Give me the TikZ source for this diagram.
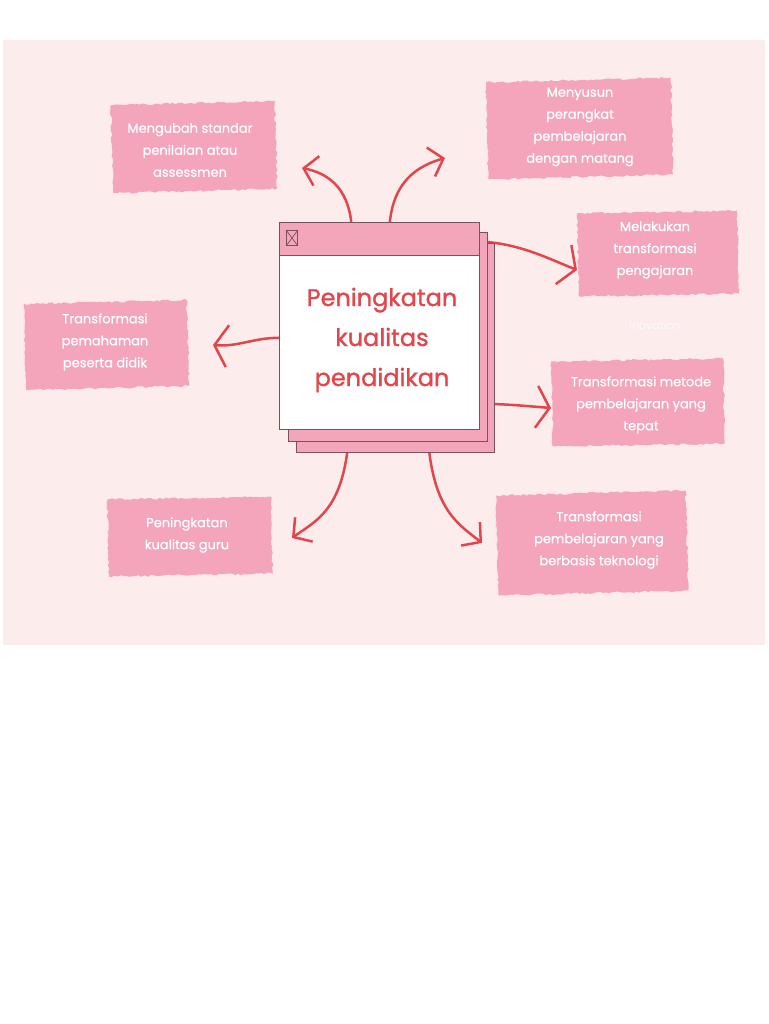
\documentclass[tikz,border=0pt]{standalone}
\usepackage{fontspec}
\setmainfont{Poppins}
\newfontfamily\titlefont{Poppins}[FakeBold=1.2]
\newfontfamily\lblfont{Poppins}[FakeBold=0.7]
\usetikzlibrary{arrows.meta,decorations.pathmorphing,calc}
\definecolor{bgpink}{RGB}{252,236,236}
\definecolor{boxpink}{RGB}{244,165,187}
\definecolor{barpink}{RGB}{243,166,186}
\definecolor{edgec}{RGB}{120,80,95}
\definecolor{redink}{RGB}{226,70,76}
\begin{document}
\begin{tikzpicture}[x=1pt,y=-1pt,
  lbl/.style={fill=boxpink, text=white, align=center, font=\fontsize{13}{22}\selectfont,
    inner sep=0pt, decorate, decoration={random steps,segment length=3pt,amplitude=1pt}},
  big/.style={draw=redink, line width=2.5pt, line cap=round, line join=round,
    -{Straight Barb[length=13pt,width=42pt]}},
  small/.style={draw=redink, line width=2.5pt, line cap=round, line join=round,
    -{Straight Barb[length=13pt,width=30pt]}},
  page/.style={draw=edgec, fill=barpink, line width=0.8pt, inner sep=0pt},
  lbltext/.style={text=white, align=center, font=\lblfont\fontsize{13}{22}\selectfont, inner sep=0pt}
]
\pgfmathsetseed{7}
\useasboundingbox (0,0) rectangle (768,1024);
\fill[white] (0,0) rectangle (768,1024);
\fill[bgpink] (3,40) rectangle (765,645);

% label boxes
\node[lbl, minimum width=164, minimum height=88, rotate=1.5] (b1) at (194,147) {};
\node[lbltext] (t1) at (190,150) {Mengubah standar\\penilaian atau\\assessmen};
\node[lbl, minimum width=185, minimum height=97, rotate=1.5] (b2) at (579.5,128.5) {};
\node[lbltext] (t2) at (580,127) {Menyusun\\perangkat\\pembelajaran\\dengan matang};
\node[lbl, minimum width=160, minimum height=83, rotate=1] (b3) at (658,253.5) {};
\node[lbltext] (t3) at (655,250) {Melakukan\\transformasi\\pengajaran};
\node[lbl, minimum width=172, minimum height=85, rotate=1] (b4) at (638,402.5) {};
\node[lbltext] (t4) at (641,405) {Transformasi metode\\pembelajaran yang\\tepat};
\node[lbl, minimum width=190, minimum height=100, rotate=1.5] (b5) at (592,543) {};
\node[lbltext] (t5) at (599,540) {Transformasi\\pembelajaran yang\\berbasis teknologi};
\node[lbl, minimum width=164, minimum height=77, rotate=1] (b6) at (190,536.5) {};
\node[lbltext] (t6) at (187,535) {Peningkatan\\kualitas guru};
\node[lbl, minimum width=163, minimum height=86, rotate=1.5] (b7) at (106.5,345) {};
\node[lbltext] (t7) at (105,342) {Transformasi\\pemahaman\\peserta didik};
\node[text=white, font=\fontsize{11}{13}\selectfont, opacity=0.8] (inv) at (655,325) {inovation};

% main window geometry (for anchors)
\node[inner sep=0pt, minimum width=200, minimum height=207] (win) at (379,325.5) {};

% arrow tips
\coordinate (tl) at (302,168);
\coordinate (tr) at (445,158);
\coordinate (rt) at (577,270);
\coordinate (lf) at (213,345);
\coordinate (rb) at (551,408);
\coordinate (bl) at (292,538);
\coordinate (br) at (482,543);

\draw[small] (win.105) .. controls +(-4,-35) and +(25,5) .. (tl);
\draw[small] (win.84) .. controls +(4,-40) and +(-28,8) .. (tr);
\draw[big] (win.40) .. controls +(40,2) and +(-30,-12) .. (rt);
\draw[big] (win.187) .. controls +(-25,0) and +(25,2) .. (lf);
\draw[big] (win.-38) .. controls +(25,0) and +(-25,-2) .. (rb);
\draw[small] (win.254) .. controls +(-4,80) and +(25,-18) .. (bl);
\draw[small] (win.-65) .. controls +(4,80) and +(-25,-20) .. (br);

% stacked pages
\node[page, minimum width=198, minimum height=209] (p3) at (395,347.5) {};
\node[page, minimum width=199, minimum height=209] (p2) at (387.5,336.5) {};
\node[draw=edgec, fill=white, line width=0.8pt, inner sep=0pt, minimum width=200, minimum height=207] (main) at (379,325.5) {};
\node[page, minimum width=200, minimum height=33] (bar) at (379,238.5) {};
\node[draw=edgec, line width=0.8pt, inner sep=0pt, minimum width=11, minimum height=15] (close) at (292,238) {};
\draw[edgec, line width=0.7pt] (close.north west) -- (close.south east) (close.north east) -- (close.south west);

\node[text=redink, align=center, font=\titlefont\fontsize{24}{40}\selectfont] (title) at (382,340) {Peningkatan\\kualitas\\pendidikan};
\end{tikzpicture}
\end{document}
